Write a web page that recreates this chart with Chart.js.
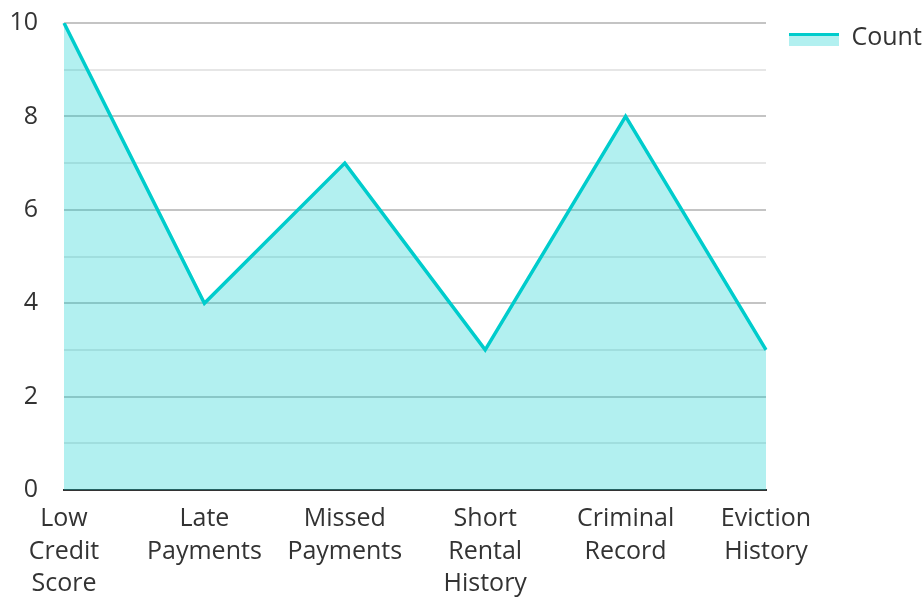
<!DOCTYPE html>
<html>
<head>
<meta charset="utf-8">
<script src="https://cdn.jsdelivr.net/npm/chart.js@4"></script>
<style>
  html, body { margin: 0; padding: 0; background: #fff; }
  #wrap { width: 924px; height: 597px; }
</style>
</head>
<body>
<div id="wrap"><canvas id="chart"></canvas></div>
<script>
// datos del gráfico
const categories = [['Low', 'Credit', 'Score'], ['Late', 'Payments'], ['Missed', 'Payments'],
    ['Short', 'Rental', 'History'], ['Criminal', 'Record'], ['Eviction', 'History']];
const counts = [10, 4, 7, 3, 8, 3];
const yTicks = [0, 2, 4, 6, 8, 10];

const lineColor = 'rgb(0, 204, 204)';
const fillColor = 'rgba(0, 204, 204, 0.3)';

// desplaza la leyenda y dibuja su símbolo (línea arriba, relleno debajo)
const legendSymbol = {
    id: 'legendSymbol',
    afterUpdate(chart) {
        const legend = chart.legend;
        if (!legend) return;
        const shift = 18;
        legend.left += shift;
        legend.right += shift;
        (legend.legendHitBoxes || []).forEach(box => { box.left += shift; });
    },
    afterDraw(chart) {
        const legend = chart.legend;
        if (!legend || !legend.legendHitBoxes) return;
        const ctx = chart.ctx;
        legend.legendHitBoxes.forEach(box => {
            const cy = box.top + box.height / 2;
            ctx.save();
            ctx.fillStyle = fillColor;
            ctx.fillRect(box.left, cy - 3, 50, 11);
            ctx.fillStyle = lineColor;
            ctx.fillRect(box.left, cy - 5, 50, 3);
            ctx.restore();
        });
    }
};

Chart.defaults.font.family = '"Open Sans", "Noto Sans", sans-serif';
Chart.defaults.font.size = 25;
Chart.defaults.color = '#333';

new Chart(document.getElementById('chart'), {
    type: 'line',
    data: {
        labels: categories,
        datasets: [{
            label: 'Count',
            data: counts,
            borderColor: lineColor,
            backgroundColor: fillColor,
            borderWidth: 3.5,
            fill: 'origin',
            pointRadius: 0,
            tension: 0
        }]
    },
    options: {
        responsive: true,
        maintainAspectRatio: false,
        animation: false,
        layout: { padding: 0 },
        scales: {
            x: {
                offset: false,
                grid: { display: false, drawTicks: false },
                border: { color: '#333', width: 2 },
                ticks: { padding: 13, maxRotation: 0, autoSkip: false, font: { size: 25, lineHeight: 1.3 } },
                afterFit: axis => {
                    axis.height = 107;
                    axis.paddingLeft = 0;
                    axis.paddingRight = 158;
                }
            },
            y: {
                min: 0,
                max: 10,
                border: { display: false },
                grid: {
                    drawTicks: false,
                    color: ctx => (ctx.tick && ctx.tick.value % 2 === 0) ? '#c4c4c4' : '#e6e6e6',
                    lineWidth: 2
                },
                ticks: {
                    stepSize: 1,
                    padding: 26,
                    font: { size: 25, lineHeight: 1.3 },
                    callback: v => yTicks.includes(v) ? String(v) : ''
                },
                afterFit: axis => {
                    axis.width = 64;
                    axis.paddingTop = 23;
                    axis.paddingBottom = 0;
                }
            }
        },
        plugins: {
            legend: {
                position: 'right',
                align: 'start',
                maxWidth: 138,
                labels: {
                    boxWidth: 50,
                    boxHeight: 66,
                    padding: 5,
                    color: '#333',
                    font: { size: 25 },
                    generateLabels: () => [{
                        text: 'Count',
                        fillStyle: 'rgba(0,0,0,0)',
                        strokeStyle: 'rgba(0,0,0,0)',
                        fontColor: '#333',
                        lineWidth: 0,
                        hidden: false,
                        datasetIndex: 0
                    }]
                }
            },
            tooltip: { enabled: false }
        }
    },
    plugins: [legendSymbol]
});
</script>
</body>
</html>
